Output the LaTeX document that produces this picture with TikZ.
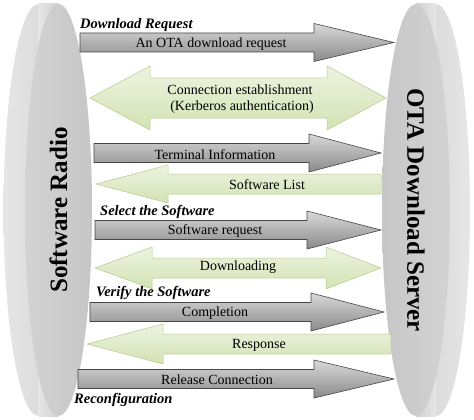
\documentclass[tikz,border=0pt]{standalone}
\usepackage{fontspec}
\setmainfont{Liberation Serif}
\definecolor{greenA}{HTML}{D3E2B3}
\definecolor{greenE}{HTML}{B5C98C}
\definecolor{rimL}{HTML}{E6E6E6}
\definecolor{rimD}{HTML}{D2D2D2}
\definecolor{faceC}{HTML}{C6C6C6}
\definecolor{faceL}{HTML}{D3D3D3}
\begin{document}
\begin{tikzpicture}[x=1pt,y=-1pt,
  grayarr/.style={draw=gray!55!black,line width=0.6pt,top color=gray!30,middle color=gray!6,bottom color=gray!92},
  greenarr/.style={draw=greenE,line width=0.5pt,top color=white!60!greenA,bottom color=greenA},
  arrtext/.style={font=\fontsize{14}{16}\selectfont\rmfamily,inner sep=0pt},
  steplabel/.style={font=\fontsize{14.5}{16}\selectfont\rmfamily\bfseries\itshape,anchor=west,inner sep=0pt},
  cyltext/.style={font=\fontsize{25}{28}\selectfont\rmfamily\bfseries,inner sep=0pt}]
\useasboundingbox (0,0) rectangle (474,420);
% left cylinder
\shade[left color=rimL,right color=rimD] (38.5,210) ellipse[x radius=35,y radius=206];
\shade[left color=rimL,right color=rimD] (38.5,4) rectangle (58.5,416);
\shade[left color=faceL,right color=faceC] (58.5,210) ellipse[x radius=33.5,y radius=206];
\node[cyltext,rotate=90] (sr) at (58.5,210) {Software Radio};
% right cylinder
\shade[left color=rimD,right color=rimL] (436,210) ellipse[x radius=34,y radius=206];
\shade[left color=rimD,right color=rimL] (416,4) rectangle (436,416);
\shade[left color=faceC,right color=faceL] (416,210) ellipse[x radius=34,y radius=206];
\node[cyltext,rotate=-90] (ota) at (416,210) {OTA Download Server};
% arrows
\path[grayarr] (80,33) -- (314,33) -- (314,23.5) -- (394,42.5) -- (314,61.5) -- (314,52) -- (80,52) -- cycle;
\path[greenarr] (90,98) -- (150,66) -- (150,78) -- (327,78) -- (327,66) -- (386,98) -- (327,130) -- (327,118) -- (150,118) -- (150,130) -- cycle;
\path[grayarr] (94,143.5) -- (309,143.5) -- (309,134) -- (381,153) -- (309,172) -- (309,162.5) -- (94,162.5) -- cycle;
\path[greenarr] (96,184) -- (168,165) -- (168,174) -- (381,174) -- (381,194) -- (168,194) -- (168,203) -- cycle;
\path[grayarr] (95,220.5) -- (307,220.5) -- (307,211) -- (381,230) -- (307,249) -- (307,239.5) -- (95,239.5) -- cycle;
\path[greenarr] (95,268) -- (152,247) -- (152,258) -- (326,258) -- (326,247) -- (381,268) -- (326,289) -- (326,278) -- (152,278) -- (152,289) -- cycle;
\path[grayarr] (90,302.5) -- (311,302.5) -- (311,293) -- (384,312) -- (311,331) -- (311,321.5) -- (90,321.5) -- cycle;
\path[greenarr] (87,344) -- (163,324) -- (163,334) -- (391,334) -- (391,354) -- (163,354) -- (163,364) -- cycle;
\path[grayarr] (78,369.5) -- (314,369.5) -- (314,360) -- (394,379) -- (314,398) -- (314,388.5) -- (78,388.5) -- cycle;
% texts
\node[arrtext] (t1) at (211,44) {An OTA download request};
\node[arrtext] (t2a) at (240,90) {Connection establishment};
\node[arrtext] (t2b) at (242,107) {(Kerberos authentication)};
\node[arrtext] (t3) at (215,155) {Terminal Information};
\node[arrtext] (t4) at (267,185) {Software List};
\node[arrtext] (t6) at (215,231) {Software request};
\node[arrtext] (t7) at (238,267) {Downloading};
\node[arrtext] (t9) at (215,313) {Completion};
\node[arrtext] (t10) at (259,345) {Response};
\node[arrtext] (t11) at (217,380) {Release Connection};
% step labels
\node[steplabel] (l1) at (80,25) {Download Request};
\node[steplabel] (l2) at (100,212) {Select the Software};
\node[steplabel] (l3) at (96,293) {Verify the Software};
\node[steplabel] (l4) at (74,400) {Reconfiguration};
\end{tikzpicture}
\end{document}
